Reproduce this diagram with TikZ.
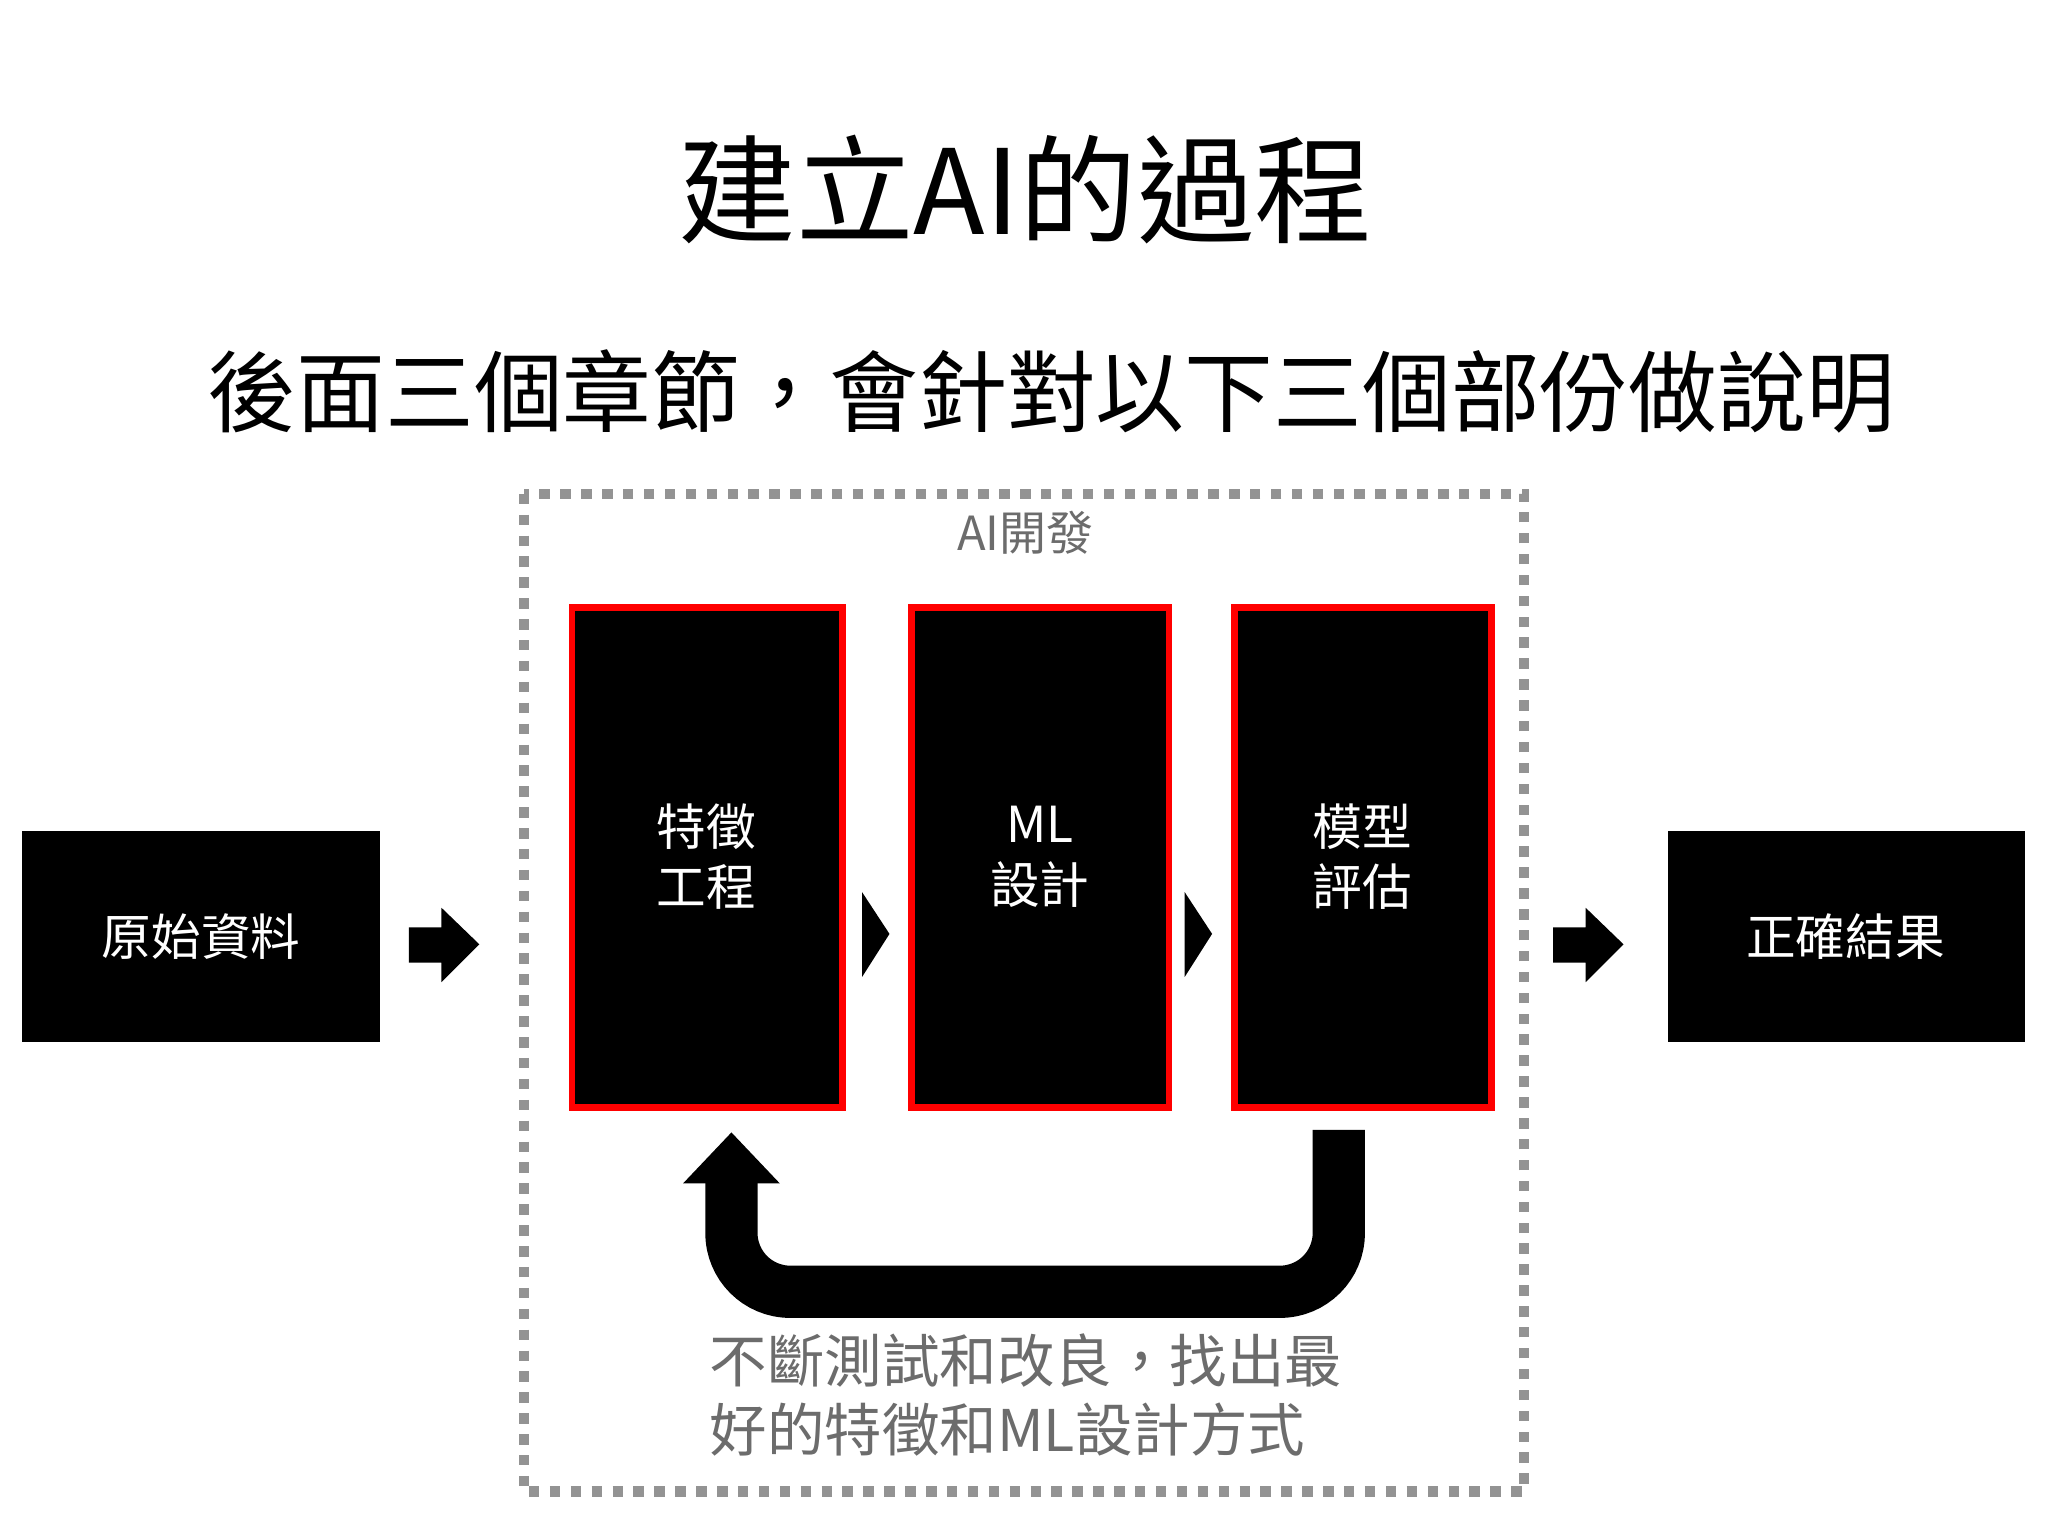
\documentclass[tikz,border=0pt]{standalone}
\usepackage{fontspec}
\setmainfont{Noto Sans CJK TC}
\begin{document}
\begin{tikzpicture}[x=1pt,y=-1pt,
  redbox/.style={draw=red,line width=5pt,fill=black},
  blk/.style={fill=black},
  wt/.style={text=white,font=\fontsize{38}{46}\selectfont,align=center},
  barrow/.style={fill=black}]
\useasboundingbox[fill=white] (0,0) rectangle (1568,1176);
\node (title) at (785,145) {\fontsize{90}{100}\selectfont 建立AI的過程};
\node (sub) at (805,300) {\fontsize{68}{80}\selectfont 後面三個章節，會針對以下三個部份做說明};
\draw[gray!85,line width=8pt,dash pattern=on 8pt off 8pt] (401,378) rectangle (1167,1142);
\node[text=gray!85!black,font=\fontsize{36}{40}\selectfont] (aidev) at (785,408) {AI開發};
\draw[redbox] (438,465) rectangle (645,848);
\draw[redbox] (698,465) rectangle (895,848);
\draw[redbox] (945,465) rectangle (1142,848);
\node[wt] (b1) at (541,656) {特徵\\工程};
\node[wt] (b2) at (796,656) {ML\\設計};
\node[wt] (b3) at (1043,656) {模型\\評估};
\fill[blk] (17,636) rectangle (291,798);
\fill[blk] (1277,636) rectangle (1550,798);
\node[wt] (raw) at (154,717) {原始資料};
\node[wt] (res) at (1413,717) {正確結果};
\fill[barrow] (313,710) -- (338,710) -- (338,695) -- (367,723) -- (338,752) -- (338,737) -- (313,737) -- cycle;
\fill[barrow] (1189,710) -- (1214,710) -- (1214,695) -- (1243,723) -- (1214,752) -- (1214,737) -- (1189,737) -- cycle;
\fill[black] (660,683) -- (681,715) -- (660,748) -- cycle;
\fill[black] (907,683) -- (928,715) -- (907,748) -- cycle;
\draw[line width=40pt,rounded corners=45pt] (1025,865) -- (1025,989) -- (560,989) -- (560,900);
\fill[black] (523,906) -- (560,867) -- (597,906) -- cycle;
\node[anchor=west,text=gray!85!black,font=\fontsize{44}{53}\selectfont,align=left] (note) at (540,1068) {不斷測試和改良，找出最\\好的特徵和ML設計方式};
\end{tikzpicture}
\end{document}
